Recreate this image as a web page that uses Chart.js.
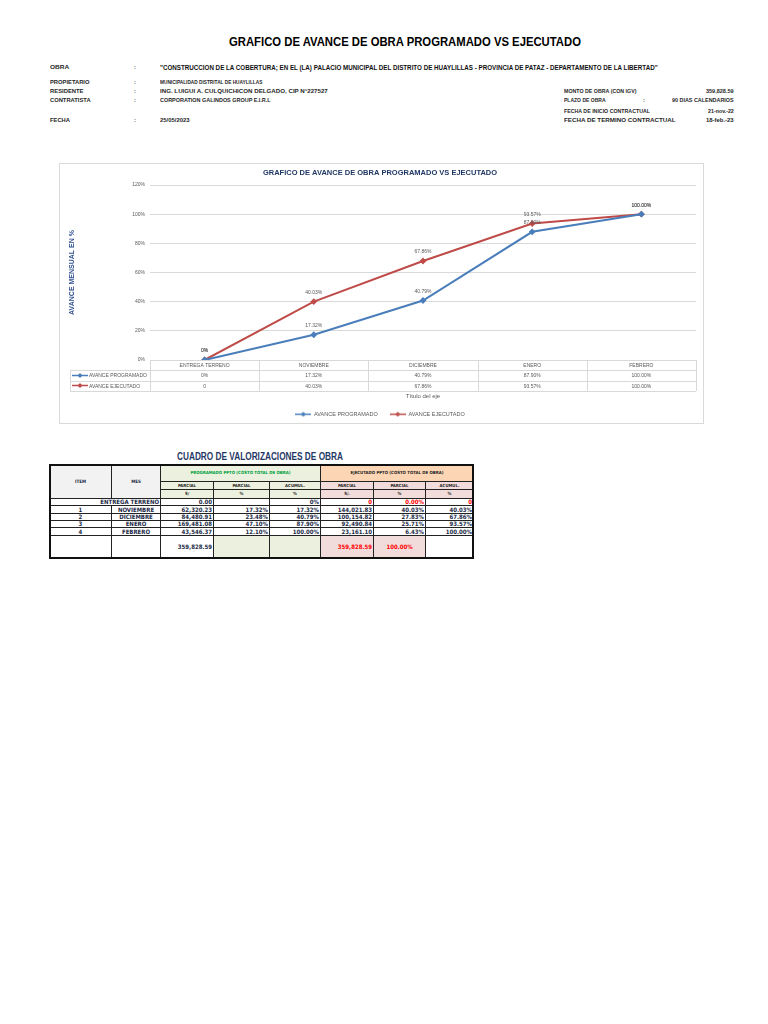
<!DOCTYPE html>
<html>
<head>
<meta charset="utf-8">
<script src="https://cdn.jsdelivr.net/npm/chart.js@4.4.0/dist/chart.umd.min.js"></script>
<style>
  body { margin: 0; width: 768px; height: 1024px; position: relative; background: #fff; font-family: "Liberation Sans", Arial, sans-serif; overflow: hidden; }
  .t { position: absolute; white-space: nowrap; font-weight: bold; color: #262626; }
  .frame { position: absolute; left: 59px; top: 163px; width: 643px; height: 259px; border: 1px solid #d9d9d9; }
  #grafico { position: absolute; left: 59px; top: 163px; }
  .c { position: absolute; box-sizing: border-box; border: 1px solid #222; overflow: hidden; white-space: nowrap; font-weight: bold; font-family: "Liberation Sans Narrow", "DejaVu Sans Condensed", "Liberation Sans", sans-serif; color: #1b2a47; }
</style>
</head>
<body>
<div class="frame"></div>
<canvas id="grafico" width="645" height="264"></canvas>
<script>
// ---- datos del grafico ----
const categorias = ['ENTREGA TERRENO', 'NOVIEMBRE', 'DICIEMBRE', 'ENERO', 'FEBRERO'];
const avanceProgramado = [0, 17.32, 40.79, 87.90, 100.00];
const avanceEjecutado = [0, 40.03, 67.86, 93.57, 100.00];
const etiquetasProgramado = ['0%', '17.32%', '40.79%', '87.90%', '100.00%'];
const etiquetasEjecutado = ['0%', '40.03%', '67.86%', '93.57%', '100.00%'];
const tablaProgramado = ['0%', '17.32%', '40.79%', '87.90%', '100.00%'];
const tablaEjecutado = ['0', '40.03%', '67.86%', '93.57%', '100.00%'];

// ---- datos del cuadro de valorizaciones ----
const items = ['', '1', '2', '3', '4'];
const meses = ['ENTREGA TERRENO', 'NOVIEMBRE', 'DICIEMBRE', 'ENERO', 'FEBRERO'];
const progParcial = ['0.00', '62,320.23', '84,480.91', '169,481.08', '43,546.37'];
const progPct = ['', '17.32%', '23.48%', '47.10%', '12.10%'];
const progAcum = ['0%', '17.32%', '40.79%', '87.90%', '100.00%'];
const ejecParcial = ['0', '144,021.83', '100,154.82', '92,490.84', '23,161.10'];
const ejecPct = ['0.00%', '40.03%', '27.83%', '25.71%', '6.43%'];
const ejecAcum = ['0', '40.03%', '67.86%', '93.57%', '100.00%'];
const totalObra = '359,828.59';

const AZUL = '#4A7EBB';
const ROJO = '#BE4B48';
const GRIS = '#595959';

// texto absoluto, ajustado a un ancho si se indica
function txt(x, y, s, o) {
  o = o || {};
  const d = document.createElement('div');
  d.className = 't';
  d.textContent = s;
  const size = o.size || 5.5;
  d.style.fontSize = size + 'px';
  d.style.lineHeight = size + 'px';
  d.style.top = (y - size / 2) + 'px';
  if (o.color) d.style.color = o.color;
  if (o.weight) d.style.fontWeight = o.weight;
  if (o.family) d.style.fontFamily = o.family;
  document.body.appendChild(d);
  const nat = d.offsetWidth;
  const w = o.w || nat;
  const align = o.align || 'left';
  const left = align === 'left' ? x : align === 'right' ? x - w : x - w / 2;
  d.style.left = left + 'px';
  d.style.transformOrigin = 'left center';
  if (o.w) d.style.transform = 'scaleX(' + (w / nat) + ')';
  return d;
}

// encabezado
txt(405, 41, 'GRAFICO DE AVANCE DE OBRA PROGRAMADO VS EJECUTADO', { size: 13, w: 352, align: 'center', color: '#000' });

txt(50, 68, 'OBRA', { w: 19 });
txt(134, 68, ':');
txt(160, 68, '"CONSTRUCCION DE LA COBERTURA; EN EL (LA) PALACIO MUNICIPAL DEL DISTRITO DE HUAYLILLAS - PROVINCIA DE PATAZ - DEPARTAMENTO DE LA LIBERTAD"', { size: 6.5, w: 498, color: '#111' });
txt(50, 83, 'PROPIETARIO', { w: 40 });
txt(134, 83, ':');
txt(160, 83, 'MUNICIPALIDAD DISTRITAL DE HUAYLILLAS', { w: 102 });
txt(50, 92, 'RESIDENTE', { w: 33 });
txt(134, 92, ':');
txt(160, 92, 'ING. LUIGUI A. CULQUICHICON DELGADO, CIP N°227527', { w: 168 });
txt(50, 101, 'CONTRATISTA', { w: 41 });
txt(134, 101, ':');
txt(160, 101, 'CORPORATION GALINDOS GROUP E.I.R.L', { w: 111 });
txt(50, 121, 'FECHA', { w: 20 });
txt(134, 121, ':');
txt(160, 121, '25/05/2023', { w: 30 });

txt(564, 92, 'MONTO DE OBRA (CON  IGV)', { w: 72 });
txt(564, 101, 'PLAZO DE OBRA', { w: 42 });
txt(643, 101, ':');
txt(564, 112, 'FECHA DE INICIO CONTRACTUAL', { w: 86 });
txt(564, 121, 'FECHA DE TERMINO CONTRACTUAL', { w: 111 });
txt(734, 92, totalObra, { w: 28, align: 'right' });
txt(734, 101, '90 DIAS CALENDARIOS', { w: 62, align: 'right' });
txt(734, 112, '21-nov.-22', { w: 26, align: 'right' });
txt(734, 121, '18-feb.-23', { w: 28, align: 'right' });

// icono de linea con marcador (leyenda)
function iconoSerie(color, w) {
  const c = document.createElement('canvas');
  c.width = w; c.height = 7;
  const g = c.getContext('2d');
  g.strokeStyle = color; g.lineWidth = 1.5;
  g.beginPath(); g.moveTo(0, 3.5); g.lineTo(w, 3.5); g.stroke();
  g.fillStyle = color;
  g.beginPath();
  g.moveTo(w / 2, 1); g.lineTo(w / 2 + 2.5, 3.5); g.lineTo(w / 2, 6); g.lineTo(w / 2 - 2.5, 3.5);
  g.closePath(); g.fill();
  return c;
}

Chart.defaults.font.family = '"Liberation Sans", Arial, sans-serif';

// etiquetas de datos sobre cada punto
const etiquetasPlugin = {
  id: 'etiquetas',
  afterDatasetsDraw(chart) {
    const { ctx } = chart;
    const textos = [etiquetasProgramado, etiquetasEjecutado];
    ctx.save();
    ctx.font = '5px "Liberation Sans", Arial, sans-serif';
    ctx.fillStyle = GRIS;
    ctx.textAlign = 'center';
    ctx.textBaseline = 'middle';
    chart.data.datasets.forEach((ds, i) => {
      chart.getDatasetMeta(i).data.forEach((p, j) => {
        ctx.fillText(textos[i][j], p.x, p.y - 9);
      });
    });
    ctx.restore();
  }
};

// tabla de datos debajo del eje
const tablaPlugin = {
  id: 'tablaDatos',
  afterDraw(chart) {
    const { ctx, chartArea, scales: { x } } = chart;
    const rowH = 10.3;
    const top = chartArea.bottom;
    const izq = 11;
    const n = categorias.length;
    const colW = (chartArea.right - chartArea.left) / n;
    const px = v => Math.round(v) + 0.5;
    ctx.save();
    ctx.strokeStyle = '#d9d9d9';
    ctx.lineWidth = 1;
    ctx.beginPath();
    ctx.moveTo(chartArea.left, px(top)); ctx.lineTo(chartArea.right, px(top));
    for (let r = 1; r <= 3; r++) {
      ctx.moveTo(izq, px(top + r * rowH)); ctx.lineTo(chartArea.right, px(top + r * rowH));
    }
    for (let k = 0; k <= n; k++) {
      const xx = px(chartArea.left + k * colW);
      ctx.moveTo(xx, top); ctx.lineTo(xx, top + 3 * rowH);
    }
    ctx.moveTo(px(izq), top + rowH); ctx.lineTo(px(izq), top + 3 * rowH);
    ctx.stroke();

    ctx.font = '5px "Liberation Sans", Arial, sans-serif';
    ctx.fillStyle = GRIS;
    ctx.textAlign = 'center';
    ctx.textBaseline = 'middle';
    const filas = [categorias, tablaProgramado, tablaEjecutado];
    filas.forEach((fila, r) => {
      fila.forEach((s, i) => {
        ctx.fillText(s, x.getPixelForValue(i), top + r * rowH + rowH / 2 + 0.5);
      });
    });
    ctx.textAlign = 'left';
    chart.data.datasets.forEach((ds, i) => {
      const y = top + (i + 1) * rowH + rowH / 2;
      ctx.drawImage(iconoSerie(ds.borderColor, 16), izq + 2, Math.round(y - 3.5));
      ctx.fillStyle = GRIS;
      ctx.fillText(ds.label, izq + 19, y + 0.5);
    });
    ctx.restore();
  }
};

new Chart(document.getElementById('grafico'), {
  type: 'line',
  data: {
    labels: categorias,
    datasets: [
      {
        label: 'AVANCE PROGRAMADO',
        data: avanceProgramado,
        borderColor: AZUL,
        backgroundColor: AZUL,
        borderWidth: 2,
        pointStyle: 'rectRot',
        pointRadius: 2,
        tension: 0
      },
      {
        label: 'AVANCE EJECUTADO',
        data: avanceEjecutado,
        borderColor: ROJO,
        backgroundColor: ROJO,
        borderWidth: 2,
        pointStyle: 'rectRot',
        pointRadius: 2,
        tension: 0
      }
    ]
  },
  options: {
    responsive: false,
    animation: false,
    layout: { padding: { left: 5, right: 8, top: 0, bottom: 0 } },
    plugins: {
      title: {
        display: true,
        text: 'GRAFICO DE AVANCE DE OBRA PROGRAMADO VS EJECUTADO',
        color: '#1F3864',
        font: { size: 7.5, weight: 'bold' },
        padding: { top: 5, bottom: 8 }
      },
      legend: {
        position: 'bottom',
        labels: {
          usePointStyle: true,
          pointStyleWidth: 16,
          padding: 12,
          color: GRIS,
          font: { size: 5.5 },
          generateLabels: chart => chart.data.datasets.map((ds, i) => ({
            text: ds.label,
            pointStyle: iconoSerie(ds.borderColor, 16),
            fillStyle: ds.borderColor,
            strokeStyle: ds.borderColor,
            lineWidth: 0,
            hidden: false,
            datasetIndex: i,
            fontColor: GRIS
          }))
        }
      },
      tooltip: { enabled: false }
    },
    scales: {
      x: {
        offset: true,
        grid: { display: false },
        border: { display: false },
        ticks: { display: false },
        title: {
          display: true,
          text: 'Título del eje',
          color: GRIS,
          font: { size: 6, lineHeight: 1 },
          padding: { top: 0, bottom: 0 }
        },
        afterFit(s) { s.height = 39.5; }
      },
      y: {
        min: 0,
        max: 120,
        ticks: { stepSize: 20, callback: v => v + '%', color: GRIS, font: { size: 5 }, padding: 5 },
        grid: { color: '#d9d9d9', drawTicks: false },
        border: { display: false },
        title: {
          display: true,
          text: 'AVANCE MENSUAL EN %',
          color: '#2E4F8F',
          font: { size: 7, weight: 'bold' }
        },
        afterFit(s) { s.width = 86; }
      }
    }
  },
  plugins: [etiquetasPlugin, tablaPlugin]
});

// ---- cuadro de valorizaciones ----
function celda(x1, y1, x2, y2, s, o) {
  o = o || {};
  const d = document.createElement('div');
  d.className = 'c';
  d.style.left = x1 + 'px';
  d.style.top = y1 + 'px';
  d.style.width = (x2 - x1 + 1) + 'px';
  d.style.height = (y2 - y1 + 1) + 'px';
  const size = o.size || 6;
  d.style.fontSize = size + 'px';
  d.style.lineHeight = (y2 - y1 - 1) + 'px';
  d.style.textAlign = o.align || 'center';
  d.style.padding = o.align === 'right' ? '0 1px 0 0' : '0';
  if (o.bg) d.style.background = o.bg;
  if (o.color) d.style.color = o.color;
  if (o.bw) d.style.borderWidth = o.bw;
  if (o.weight) d.style.fontWeight = o.weight;
  d.textContent = s;
  document.body.appendChild(d);
  return d;
}

txt(260, 457, 'CUADRO DE VALORIZACIONES DE OBRA', { size: 10, w: 166, align: 'center', color: '#1F3864' });

const cx = [49, 111, 160, 213, 269, 320, 373, 425, 473];
const VERDE = '#EBF1DE', NARANJA = '#FCD5B4', ROSA = '#F2DCDB';
const yH = [464, 481, 489, 498];
celda(cx[0], yH[0], cx[1], yH[3], 'ITEM', { size: 4.5, bg: '#F2F2F2' });
celda(cx[1], yH[0], cx[2], yH[3], 'MES', { size: 4.5, bg: '#F2F2F2' });
celda(cx[2], yH[0], cx[5], yH[1], 'PROGRAMADO PPTO (COSTO TOTAL DE OBRA)', { size: 4.3, bg: VERDE, color: '#00A040' });
celda(cx[5], yH[0], cx[8], yH[1], 'EJECUTADO PPTO (COSTO TOTAL DE OBRA)', { size: 4.3, bg: NARANJA, color: '#262626' });
const sub1 = ['PARCIAL', 'PARCIAL', 'ACUMUL.', 'PARCIAL', 'PARCIAL', 'ACUMUL.'];
const sub2 = ['S/', '%', '%', 'S/.', '%', '%'];
for (let k = 0; k < 6; k++) {
  const bg = k < 3 ? VERDE : ROSA;
  celda(cx[k + 2], yH[1], cx[k + 3], yH[2], sub1[k], { size: 4.3, bg, color: '#262626' });
  celda(cx[k + 2], yH[2], cx[k + 3], yH[3], sub2[k], { size: 4.3, bg, color: '#262626' });
}

const filaH = 7.3;
for (let r = 0; r < meses.length; r++) {
  const y1 = Math.round(yH[3] + r * filaH);
  const y2 = Math.round(yH[3] + (r + 1) * filaH);
  if (r === 0) {
    celda(cx[0], y1, cx[2], y2, meses[r], { align: 'right' });
  } else {
    celda(cx[0], y1, cx[1], y2, items[r]);
    celda(cx[1], y1, cx[2], y2, meses[r]);
  }
  const rojo = r === 0 ? '#FF0000' : null;
  celda(cx[2], y1, cx[3], y2, progParcial[r], { align: 'right' });
  celda(cx[3], y1, cx[4], y2, progPct[r], { align: 'right' });
  celda(cx[4], y1, cx[5], y2, progAcum[r], { align: 'right' });
  celda(cx[5], y1, cx[6], y2, ejecParcial[r], { align: 'right', color: rojo });
  celda(cx[6], y1, cx[7], y2, ejecPct[r], { align: 'right', color: rojo });
  celda(cx[7], y1, cx[8], y2, ejecAcum[r], { align: 'right', color: rojo });
}
const yT1 = Math.round(yH[3] + meses.length * filaH);
const yT2 = 558;
celda(cx[0], yT1, cx[1], yT2, '');
celda(cx[1], yT1, cx[2], yT2, '');
celda(cx[2], yT1, cx[3], yT2, totalObra, { align: 'right' });
celda(cx[3], yT1, cx[4], yT2, '', { bg: VERDE });
celda(cx[4], yT1, cx[5], yT2, '', { bg: VERDE });
celda(cx[5], yT1, cx[6], yT2, totalObra, { align: 'right', bg: ROSA, color: '#FF0000' });
celda(cx[6], yT1, cx[7], yT2, '100.00%', { bg: ROSA, color: '#FF0000' });
celda(cx[7], yT1, cx[8], yT2, '');

// borde exterior grueso
const borde = document.createElement('div');
borde.style.cssText = 'position:absolute;box-sizing:border-box;border:2px solid #111;left:' + cx[0] + 'px;top:' + yH[0] + 'px;width:' + (cx[8] - cx[0] + 1) + 'px;height:' + (yT2 - yH[0] + 1) + 'px;';
document.body.appendChild(borde);
</script>
</body>
</html>
